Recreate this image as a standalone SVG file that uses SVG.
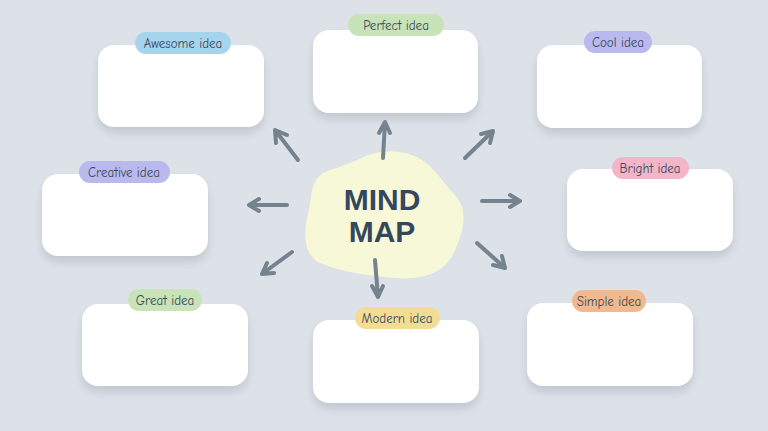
<svg xmlns="http://www.w3.org/2000/svg" width="768" height="431" viewBox="0 0 768 431">
<style>
.card{fill:#fff;filter:url(#sh)}
.lbl{font-family:"Comic Neue","Liberation Sans",sans-serif;font-size:13px;fill:#3b4a5c;text-anchor:middle}
.arr{stroke:#75838f;stroke-width:4;fill:none;stroke-linecap:round;stroke-linejoin:round}
</style>
<defs>
<filter id="sh" x="-10%" y="-10%" width="120%" height="140%"><feDropShadow dx="0" dy="6" stdDeviation="4" flood-color="#9aa3b0" flood-opacity="0.4"/></filter>
</defs>
<rect width="768" height="431" fill="#dde1e8"/>
<g id="center">
<path d="M330 170 C360 162 370 148 400 152 C430 156 440 180 455 195 C470 212 462 235 455 250 C445 275 420 280 395 278 C370 276 340 272 318 262 C300 250 305 225 310 205 C312 185 315 175 330 170 Z" fill="#f7f8d8"/>
<text x="382" y="210" font-family="Liberation Sans,sans-serif" font-weight="bold" font-size="30" fill="#34475c" text-anchor="middle">MIND</text>
<text x="382" y="242" font-family="Liberation Sans,sans-serif" font-weight="bold" font-size="30" fill="#34475c" text-anchor="middle">MAP</text>
</g>
<g id="connectors" class="arr">
<path d="M298 160 L275 130 M275 130 L276 143 M275 130 L287 135"/>
<path d="M383 158 L385 122 M385 122 L379 133 M385 122 L390 133"/>
<path d="M465 158 L493 131 M493 131 L481 134 M493 131 L490 143"/>
<path d="M482 201 L520 201 M520 201 L510 195 M520 201 L510 207"/>
<path d="M477 243 L505 268 M505 268 L502 256 M505 268 L493 265"/>
<path d="M375 260 L378 297 M378 297 L372 286 M378 297 L383 286"/>
<path d="M292 252 L262 274 M262 274 L274 273 M262 274 L267 263"/>
<path d="M287 205 L249 205 M249 205 L259 199 M249 205 L259 211"/>
</g>
<g id="awesome"><rect class="card" x="98" y="45" width="166" height="82" rx="16"/><rect x="135" y="32" width="96" height="22" rx="11" fill="#a6d4ec"/><text class="lbl" x="183" y="48">Awesome idea</text></g>
<g id="perfect"><rect class="card" x="313" y="30" width="165" height="83" rx="16"/><rect x="348" y="14" width="96" height="22" rx="11" fill="#c8e3b8"/><text class="lbl" x="396" y="30">Perfect  idea</text></g>
<g id="cool"><rect class="card" x="537" y="45" width="165" height="83" rx="16"/><rect x="584" y="31" width="68" height="22" rx="11" fill="#b9b9ee"/><text class="lbl" x="618" y="47">Cool idea</text></g>
<g id="creative"><rect class="card" x="42" y="174" width="166" height="82" rx="16"/><rect x="79" y="161" width="91" height="22" rx="11" fill="#b9b9ee"/><text class="lbl" x="124" y="177">Creative idea</text></g>
<g id="bright"><rect class="card" x="567" y="169" width="166" height="82" rx="16"/><rect x="612" y="157" width="77" height="22" rx="11" fill="#f2b6c8"/><text class="lbl" x="650" y="173">Bright idea</text></g>
<g id="great"><rect class="card" x="82" y="304" width="166" height="82" rx="16"/><rect x="128" y="289" width="74" height="22" rx="11" fill="#c8e3b8"/><text class="lbl" x="165" y="305">Great idea</text></g>
<g id="modern"><rect class="card" x="313" y="320" width="166" height="83" rx="16"/><rect x="355" y="307" width="85" height="22" rx="11" fill="#f3dc94"/><text class="lbl" x="397" y="323">Modern idea</text></g>
<g id="simple"><rect class="card" x="527" y="303" width="166" height="83" rx="16"/><rect x="572" y="290" width="74" height="22" rx="11" fill="#f2b88e"/><text class="lbl" x="609" y="306">Simple idea</text></g>
</svg>
